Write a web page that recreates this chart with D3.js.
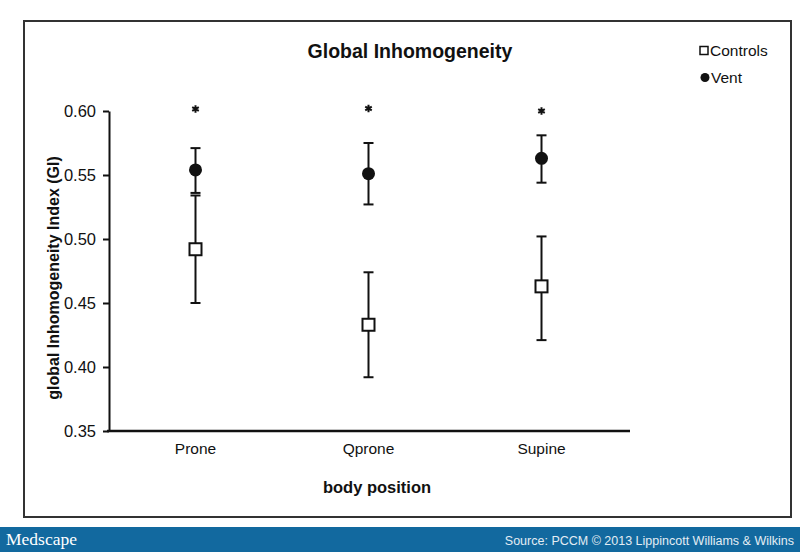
<!DOCTYPE html>
<html>
<head>
<meta charset="utf-8">
<script src="https://cdn.jsdelivr.net/npm/d3@7"></script>
<style>
  body { margin: 0; background: #fff; }
  svg { display: block; font-family: "Liberation Sans", Arial, sans-serif; }
</style>
</head>
<body>
<div id="container"></div>
<script>
/* CONSTANTS AND GLOBALS */
const width = 800,
  height = 552;

/* DATA */
const positions = ["Prone", "Qprone", "Supine"];
const ventMean = [0.554, 0.551, 0.563];
const ventLow = [0.536, 0.527, 0.544];
const ventHigh = [0.571, 0.575, 0.581];
const ctrlMean = [0.492, 0.433, 0.463];
const ctrlLow = [0.450, 0.392, 0.421];
const ctrlHigh = [0.534, 0.474, 0.502];
const starValue = [0.6015, 0.602, 0.600];
const yTicks = [0.35, 0.40, 0.45, 0.50, 0.55, 0.60];

const series = [
  { name: "Controls", mean: ctrlMean, low: ctrlLow, high: ctrlHigh },
  { name: "Vent", mean: ventMean, low: ventLow, high: ventHigh }
];

// SCALES
const xScale = d3.scaleBand()
  .domain(positions)
  .range([109, 628])

const yScale = d3.scaleLinear()
  .domain([0.35, 0.60])
  .range([431, 111])

const cx = d => xScale(d) + xScale.bandwidth() / 2

// CREATE SVG ELEMENT
const svg = d3.select("#container")
  .append("svg")
  .attr("width", width)
  .attr("height", height)

// frame
svg.append("rect")
  .attr("x", 24).attr("y", 21)
  .attr("width", 767).attr("height", 496)
  .attr("fill", "#fff")
  .attr("stroke", "#333")
  .attr("stroke-width", 2)

// title
svg.append("text")
  .attr("x", 410).attr("y", 58)
  .attr("text-anchor", "middle")
  .style("font-size", "19.5px")
  .style("font-weight", "bold")
  .attr("fill", "#111")
  .text("Global Inhomogeneity")

// AXES
const yAxis = svg.append("g")
  .attr("class", "y-axis")
  .attr("transform", "translate(109,0)")
  .call(d3.axisLeft(yScale).tickValues(yTicks).tickFormat(d3.format(".2f")).tickSize(6).tickSizeOuter(0).tickPadding(7))
yAxis.select(".domain").attr("stroke", "#111").attr("stroke-width", 2)
yAxis.selectAll(".tick line").attr("stroke", "#111").attr("stroke-width", 2)
yAxis.selectAll("text")
  .style("font-size", "16.5px")
  .style("font-family", "'Liberation Sans', Arial, sans-serif")
  .attr("fill", "#111")

const xAxis = svg.append("g")
  .attr("class", "x-axis")
  .attr("transform", "translate(0,431)")
  .call(d3.axisBottom(xScale).tickSize(0).tickSizeOuter(0).tickPadding(12))
xAxis.select(".domain").attr("stroke", "#111").attr("stroke-width", 2.5)
  .attr("d", "M107,0H630")
xAxis.selectAll("text")
  .style("font-size", "15.5px")
  .style("font-family", "'Liberation Sans', Arial, sans-serif")
  .attr("fill", "#111")

// axis titles
svg.append("text")
  .attr("x", 377).attr("y", 493)
  .attr("text-anchor", "middle")
  .style("font-size", "16.5px")
  .style("font-weight", "bold")
  .attr("fill", "#111")
  .text("body position")

svg.append("text")
  .attr("transform", "translate(59,278) rotate(-90)")
  .attr("text-anchor", "middle")
  .style("font-size", "16px")
  .style("font-weight", "bold")
  .attr("fill", "#111")
  .text("global Inhomogeneity Index (GI)")

// ERROR BARS
const capW = 10;
series.forEach(s => {
  const g = svg.append("g").attr("class", "err " + s.name)
  g.selectAll("line.stem")
    .data(positions)
    .join("line")
    .attr("class", "stem")
    .attr("x1", d => cx(d)).attr("x2", d => cx(d))
    .attr("y1", (d, i) => yScale(s.low[i]))
    .attr("y2", (d, i) => yScale(s.high[i]))
    .attr("stroke", "#111").attr("stroke-width", 2)
  g.selectAll("line.caplo")
    .data(positions)
    .join("line")
    .attr("class", "caplo")
    .attr("x1", d => cx(d) - capW / 2).attr("x2", d => cx(d) + capW / 2)
    .attr("y1", (d, i) => yScale(s.low[i]))
    .attr("y2", (d, i) => yScale(s.low[i]))
    .attr("stroke", "#111").attr("stroke-width", 2)
  g.selectAll("line.caphi")
    .data(positions)
    .join("line")
    .attr("class", "caphi")
    .attr("x1", d => cx(d) - capW / 2).attr("x2", d => cx(d) + capW / 2)
    .attr("y1", (d, i) => yScale(s.high[i]))
    .attr("y2", (d, i) => yScale(s.high[i]))
    .attr("stroke", "#111").attr("stroke-width", 2)
})

// MARKERS
svg.selectAll("rect.ctrl")
  .data(positions)
  .join("rect")
  .attr("class", "ctrl")
  .attr("x", d => cx(d) - 6)
  .attr("y", (d, i) => yScale(ctrlMean[i]) - 6)
  .attr("width", 12).attr("height", 12)
  .attr("fill", "#fff")
  .attr("stroke", "#111")
  .attr("stroke-width", 2)

svg.selectAll("circle.vent")
  .data(positions)
  .join("circle")
  .attr("class", "vent")
  .attr("cx", d => cx(d))
  .attr("cy", (d, i) => yScale(ventMean[i]))
  .attr("r", 6.5)
  .attr("fill", "#111")

// significance stars
svg.selectAll("path.star")
  .data(positions)
  .join("path")
  .attr("class", "star")
  .attr("transform", (d, i) => `translate(${cx(d)},${yScale(starValue[i])})`)
  .attr("d", d3.symbol(d3.symbolAsterisk, 40))
  .attr("fill", "none")
  .attr("stroke", "#111")
  .attr("stroke-width", 2)

// LEGEND
const legend = svg.append("g").attr("class", "legend")
legend.append("rect")
  .attr("x", 700).attr("y", 46.5)
  .attr("width", 8).attr("height", 8)
  .attr("fill", "#fff").attr("stroke", "#111").attr("stroke-width", 1.5)
legend.append("text")
  .attr("x", 710).attr("y", 56)
  .style("font-size", "15.5px")
  .attr("fill", "#111")
  .text(series[0].name)
legend.append("circle")
  .attr("cx", 705).attr("cy", 77.5).attr("r", 4.5)
  .attr("fill", "#111")
legend.append("text")
  .attr("x", 711).attr("y", 83)
  .style("font-size", "15.5px")
  .attr("fill", "#111")
  .text(series[1].name)

// FOOTER
svg.append("rect")
  .attr("x", 0).attr("y", 527)
  .attr("width", width).attr("height", 25)
  .attr("fill", "#12699f")
svg.append("text")
  .attr("x", 6).attr("y", 545)
  .style("font-family", "'Liberation Serif', 'Times New Roman', serif")
  .style("font-size", "17.5px")
  .attr("fill", "#fff")
  .text("Medscape")
svg.append("text")
  .attr("x", 794).attr("y", 544.5)
  .attr("text-anchor", "end")
  .style("font-size", "12.5px")
  .attr("fill", "#e4edf4")
  .text("Source: PCCM © 2013 Lippincott Williams & Wilkins")
</script>
</body>
</html>
